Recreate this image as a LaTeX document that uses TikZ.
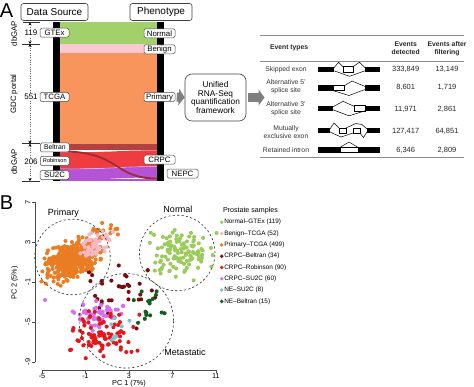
\documentclass[tikz,border=0pt]{standalone}
\usepackage{fontspec}
\setmainfont{Liberation Sans}
\usetikzlibrary{arrows.meta,calc}
\definecolor{cgreen}{HTML}{A2D16B}
\definecolor{cpink}{HTML}{F8C9D1}
\definecolor{corange}{HTML}{F7955C}
\definecolor{cbelt}{HTML}{B3413F}
\definecolor{cbeltne}{HTML}{9E2A38}
\definecolor{crob}{HTML}{EF3C40}
\definecolor{csu2c}{HTML}{B453D6}
\definecolor{pnormal}{HTML}{9BCB5B}
\definecolor{pbenign}{HTML}{F4B8C6}
\definecolor{pprimary}{HTML}{EA7D23}
\definecolor{pcbelt}{HTML}{7A0C0F}
\definecolor{pcrob}{HTML}{E8161B}
\definecolor{pcsu}{HTML}{D66EF0}
\definecolor{pnesu}{HTML}{7CC6D3}
\definecolor{pnebelt}{HTML}{135F1E}
\definecolor{garrowc}{HTML}{7F7F7F}
\begin{document}
\begin{tikzpicture}[x=1pt,y=-1pt,
  hdrbox/.style={draw=black!75, line width=0.6pt, rounded corners=2.5pt, minimum height=17pt, inner sep=0pt, font=\fontsize{10}{12}\selectfont},
  tagbox/.style={draw=black!70, fill=white, line width=0.5pt, rounded corners=1.5pt, minimum height=9pt, inner sep=0pt, font=\fontsize{7.8}{9}\selectfont},
  ltag/.style={tagbox, minimum width=29pt},
  rtag/.style={tagbox, minimum width=31pt},
  barnode/.style={fill=black, inner sep=0pt, minimum width=7pt, minimum height=159pt},
  tickline/.style={black!80, line width=0.5pt},
  dimarrow/.style={black!60, line width=0.6pt, dash pattern=on 0.7pt off 1.6pt, {Stealth[length=3pt,width=3.2pt,black]}-{Stealth[length=3pt,width=3.2pt,black]}},
  dimlab/.style={fill=white, inner sep=0.8pt, font=\fontsize{8}{9}\selectfont},
  sidelab/.style={rotate=90, font=\fontsize{7.8}{9}\selectfont},
  garrow/.style={draw=garrowc, line width=9pt, -{Triangle[length=6pt,width=16pt]}},
  trule/.style={draw=black!45, line width=0.6pt},
  hdtext/.style={font=\fontsize{6.8}{8}\selectfont\bfseries, text=black!85},
  rowlab/.style={align=center, font=\fontsize{6.8}{8}\selectfont, text=black!80},
  numtext/.style={font=\fontsize{7.5}{9}\selectfont, text=black!85},
  bexon/.style={fill=black},
  wexon/.style={draw=black, fill=white, line width=0.5pt},
  junc/.style={draw=black, line width=0.5pt},
  axisline/.style={black!70, line width=0.5pt},
  axlab/.style={font=\fontsize{7.3}{8}\selectfont},
  grpcirc/.style={black!80, line width=0.6pt, dash pattern=on 2.2pt off 2.2pt},
  grplab/.style={font=\fontsize{9}{10}\selectfont},
  legtext/.style={anchor=west, font=\fontsize{6.4}{7}\selectfont, inner sep=0.5pt},
]
\useasboundingbox (0,0) rectangle (474,387);

%================ Panel A ================
\node[font=\fontsize{20}{20}\selectfont] (labA) at (6.5,10.5) {A};
\node[hdrbox, minimum width=67pt] (ds) at (54.5,12) {Data Source};
\node[hdrbox, minimum width=62pt] (ph) at (161,12) {Phenotype};

% bands
\fill[cgreen] (60,22.5) rectangle (157,44);
\fill[cpink] (60,44) rectangle (157,53.4);
\fill[corange] (60,53.4) rectangle (157,143.7);
\fill[cbelt] (60,143.7) rectangle (157,150.4);
\fill[crob] (60,152.3) .. controls (122,152.3) and (112,150.4) .. (157,150.4) -- (157,166.6) .. controls (112,166.6) and (122,168.9) .. (60,168.9) -- cycle;
\fill[csu2c] (60,168.9) .. controls (122,168.9) and (112,166.6) .. (157,166.6) -- (157,177.5) .. controls (112,177.5) and (122,179.6) .. (60,179.6) -- cycle;
\fill[csu2c] (60,179.4) rectangle (157,181);
\draw[white, opacity=0.5, line width=0.6pt] (60,168.9) .. controls (122,168.9) and (112,166.6) .. (157,166.6);
\fill[cbeltne] (60,150.4) .. controls (122,150.4) and (112,177.5) .. (157,177.5) -- (157,179.5) .. controls (112,179.5) and (122,152.3) .. (60,152.3) -- cycle;

% black bars
\node[barnode] (lbar) at (56.5,101.8) {};
\node[barnode] (rbar) at (160.5,101.8) {};

% left tags
\node[ltag] (gtex) at (54.5,32.7) {GTEx};
\node[ltag] (tcga) at (54.5,97) {TCGA};
\node[ltag, font=\fontsize{6.8}{8}\selectfont] (belt) at (54.8,147.5) {Beltran};
\node[ltag, font=\fontsize{5.6}{7}\selectfont] (rob) at (54.8,161) {Robinson};
\node[ltag] (su2c) at (54.5,175.2) {SU2C};

% right tags
\node[rtag] (normal) at (159.5,33.3) {Normal};
\node[rtag] (benign) at (159.5,49.3) {Benign};
\node[rtag] (prim) at (159.5,97) {Primary};
\node[rtag] (crpc) at (159.5,159.7) {CRPC};
\node[rtag] (nepc) at (182.5,173.6) {NEPC};

% dimension marks
\coordinate (d0) at (30,22.5);
\coordinate (d1) at (30,44);
\coordinate (d2) at (30,143.7);
\coordinate (d3) at (30,181);
\draw[tickline] (23,22.5) -- (40,22.5);
\draw[tickline] (22,44) -- (40,44);
\draw[tickline] (22,143.7) -- (40,143.7);
\draw[tickline] (22,181) -- (40,181);
\draw[dimarrow] (d0) -- (d1);
\draw[dimarrow] (d1) -- (d2);
\draw[dimarrow] (d2) -- (d3);
\node[dimlab] (n119) at (31,33) {119};
\node[dimlab] (n551) at (31,97) {551};
\node[dimlab] (n206) at (31,162) {206};
\node[sidelab] (db1) at (14,33.5) {dbGAP};
\node[sidelab] (gdc) at (14,94) {GDC portal};
\node[sidelab] (db2) at (14,162) {dbGAP};

% unified box and arrows
\node[draw=black!75, line width=0.6pt, rounded corners=7pt, minimum width=61pt, minimum height=47pt, inner sep=0pt, align=center, font=\fontsize{8.3}{8.4}\selectfont] (uni) at (215.5,97.5) {Unified\\RNA-Seq\\quantification\\framework};
\coordinate (tabin) at (264.5,97.5);
\draw[garrow] ([xshift=1.5pt]prim.east) -- (uni.west);
\draw[garrow] ([xshift=1.5pt]uni.east) -- (tabin);

% table
\draw[trule, line width=0.9pt] (260,35) -- (464,35);
\draw[trule] (260,61) -- (464,61);
\draw[trule, line width=0.9pt] (260,157.7) -- (464,157.7);
\node[hdtext, anchor=west] (h1) at (266.5,48.3) {Event types};
\node[hdtext, align=center] (h2) at (405.7,48.3) {Events\\detected};
\node[hdtext, align=center] (h3) at (447,48.3) {Events after\\filtering};

\node[rowlab] (r1) at (286,69.3) {Skipped exon};
\node[rowlab] (r2) at (286,86.7) {Alternative 5'\\splice site};
\node[rowlab] (r3) at (286,109.2) {Alternative 3'\\splice site};
\node[rowlab] (r4) at (286,131.7) {Mutually\\exclusive exon};
\node[rowlab] (r5) at (286,150) {Retained intron};

\node[numtext] at (405.7,69.3) {333,849};
\node[numtext] at (447,69.3) {13,149};
\node[numtext] at (405.7,87.3) {8,601};
\node[numtext] at (447,87.3) {1,719};
\node[numtext] at (405.7,109.3) {11,971};
\node[numtext] at (447,109.3) {2,861};
\node[numtext] at (405.7,131) {127,417};
\node[numtext] at (447,131) {64,851};
\node[numtext] at (405.7,150) {6,346};
\node[numtext] at (447,150) {2,809};

% diagrams
\begin{scope}[shift={(0,69.3)}]
  \fill[bexon] (318,-2.6) rectangle (334,2.6);
  \fill[bexon] (365,-2.6) rectangle (380,2.6);
  \draw[wexon] (343,-2.6) rectangle (353,2.6);
  \draw[junc] (334,-1.5) -- (338.5,-7) -- (343,-2.6);
  \draw[junc] (353,-2.6) -- (359.5,-7) -- (365,-1.5);
  \draw[junc] (334,1.5) -- (349.5,7) -- (365,1.5);
\end{scope}
\begin{scope}[shift={(0,88)}]
  \fill[bexon] (318,-2.6) rectangle (333,2.6);
  \draw[wexon] (333,-2.6) rectangle (344,2.6);
  \fill[bexon] (365,-2.6) rectangle (380,2.6);
  \draw[junc] (344,-2) -- (352,-7) -- (365,-1.5);
  \draw[junc] (333,2.6) -- (349,7.5) -- (365,1.5);
\end{scope}
\begin{scope}[shift={(0,108.3)}]
  \fill[bexon] (318,-2.6) rectangle (333,2.6);
  \draw[junc] (333,-1.5) -- (343,-7) -- (354,-2);
  \draw[wexon] (354,-2.6) rectangle (365,2.6);
  \fill[bexon] (365,-2.6) rectangle (380,2.6);
  \draw[junc] (333,1.5) -- (349,7.5) -- (365,2.6);
\end{scope}
\begin{scope}[shift={(0,130.5)}]
  \fill[bexon] (318,-2.6) rectangle (330,2.6);
  \draw[wexon] (339,-2.6) rectangle (346,2.6);
  \draw[wexon] (353,-2.6) rectangle (360,2.6);
  \fill[bexon] (367,-2.6) rectangle (380,2.6);
  \draw[junc] (330,-1.5) -- (334,-7.5) -- (339,-2.6);
  \draw[junc] (346,-2.6) -- (356,-7) -- (362,-6) -- (367,-1.5);
  \draw[junc] (330,1.5) -- (341,6.5) -- (353,2.6);
  \draw[junc] (360,2.6) -- (363.5,7) -- (367,1.5);
\end{scope}
\begin{scope}[shift={(0,150)}]
  \fill[bexon] (318,-2.6) rectangle (340,2.6);
  \draw[wexon] (340,-2.6) rectangle (358,2.6);
  \fill[bexon] (358,-2.6) rectangle (380,2.6);
  \draw[junc] (340,-2.6) -- (349,-8) -- (358,-2.6);
\end{scope}

%================ Panel B ================
\node[font=\fontsize{20}{20}\selectfont] (labB) at (6.5,203) {B};

% axes
\draw[axisline] (35,202) -- (35,362);
\foreach \v/\t in {7/7,3/3,-1/-1,-5/-5,-9/-9}{
  \draw[axisline] (35,{272-10*\v}) -- (32,{272-10*\v});
  \node[axlab, rotate=90, anchor=base, inner sep=0pt] at (30.5,{272-10*\v}) {\t};
}
\draw[axisline] (42,370) -- (216,370);
\foreach \u/\t in {-5/-5,-1/-1,3/3,7/7,11/11}{
  \draw[axisline] ({42+(\u+5)*10.875},370) -- ({42+(\u+5)*10.875},373);
  \node[axlab, anchor=base, inner sep=0pt] at ({42+(\u+5)*10.875},378.3) {\t};
}
\node[axlab, anchor=base, inner sep=0pt] (xlab) at (129,385.5) {PC 1 (7\%)};
\node[axlab, rotate=90, anchor=base, inner sep=0pt] (ylab) at (16.5,283) {PC 2 (5\%)};

% points
\pgfmathsetseed{4242}
\foreach \i in {1,...,499}{
  \pgfmathsetmacro\ga{rand+rand+rand}
  \pgfmathsetmacro\gb{rand+rand+rand}
  \fill[pprimary] ({72+12.5*\ga},{259+8.5*\gb-4*\ga}) circle (2.05pt);
}
\foreach \i in {1,...,14}{
  \pgfmathsetmacro\ga{rand+rand+rand}
  \pgfmathsetmacro\gb{rand+rand+rand}
  \fill[pprimary] ({112+10*\ga},{231+3*\gb}) circle (2.05pt);
}
\foreach \i in {1,...,52}{
  \pgfmathsetmacro\ga{rand+rand+rand}
  \pgfmathsetmacro\gb{rand+rand+rand}
  \fill[pbenign] ({96+9*\ga},{245+5.5*\gb-2.5*\ga}) circle (2.05pt);
}
\foreach \i in {1,...,119}{
  \pgfmathsetmacro\ga{rand+rand+rand}
  \pgfmathsetmacro\gb{rand+rand+rand}
  \fill[pnormal] ({179+14*\ga},{251+11*\gb}) circle (2.05pt);
}
\foreach \i in {1,...,34}{
  \pgfmathsetmacro\ga{rand+rand+rand}
  \pgfmathsetmacro\gb{rand+rand+rand}
  \fill[pcbelt] ({118+19*\ga},{292+13*\gb}) circle (2.05pt);
}
\foreach \i in {1,...,60}{
  \pgfmathsetmacro\ga{rand+rand+rand}
  \pgfmathsetmacro\gb{rand+rand+rand}
  \fill[pcsu] ({96+13*\ga},{315+9*\gb}) circle (2.05pt);
}
\fill[pcsu] (45,300) circle (2.05pt);
\foreach \i in {1,...,90}{
  \pgfmathsetmacro\ga{rand+rand+rand}
  \pgfmathsetmacro\gb{rand+rand+rand}
  \fill[pcrob] ({102+16*\ga},{334+11*\gb}) circle (2.05pt);
}
\foreach \i in {1,...,15}{
  \pgfmathsetmacro\ga{rand+rand+rand}
  \pgfmathsetmacro\gb{rand+rand+rand}
  \fill[pnebelt] ({150+9*\ga},{306+12*\gb}) circle (2.05pt);
}
\foreach \i in {1,...,8}{
  \pgfmathsetmacro\ga{rand+rand+rand}
  \pgfmathsetmacro\gb{rand+rand+rand}
  \fill[pnesu] ({112+9*\ga},{330+6*\gb}) circle (2.05pt);
}

% group circles
\draw[grpcirc] (72.5,257) circle (37.8pt);
\draw[grpcirc] (177.2,253) circle (37.8pt);
\draw[grpcirc] (126.3,320.8) circle (47.3pt);
\node[grplab] (gprim) at (63.3,212.8) {Primary};
\node[grplab] (gnorm) at (178,209.5) {Normal};
\node[grplab] (gmeta) at (185,352) {Metastatic};

% legend
\node[anchor=west, font=\fontsize{7.1}{8}\selectfont, inner sep=0.5pt] (legt) at (222.3,211) {Prostate samples};
\foreach \y/\c/\t in {222.3/pnormal/Normal–GTEx (119),
                      233.6/pbenign/Benign–TCGA (52),
                      244.9/pprimary/Primary–TCGA (499),
                      256.2/pcbelt/CRPC–Beltran (34),
                      267.5/pcrob/CRPC–Robinson (90),
                      278.8/pcsu/CRPC–SU2C (60),
                      290.1/pnesu/NE–SU2C (8),
                      301.4/pnebelt/NE–Beltran (15)}{
  \fill[\c] (221.7,\y) circle (1.9pt);
  \node[legtext] at (223.6,\y) {\t};
}
\end{tikzpicture}
\end{document}
